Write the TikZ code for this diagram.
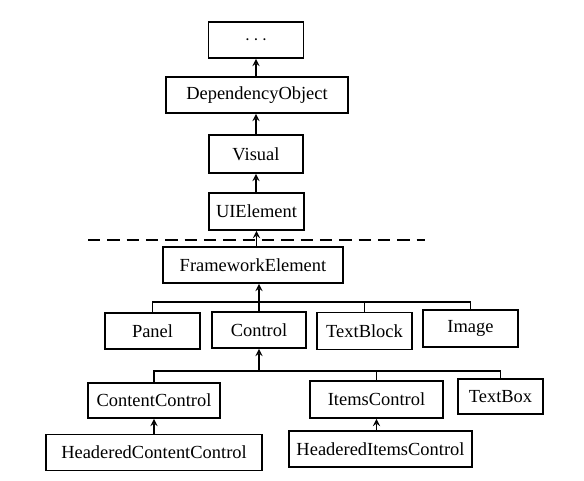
\documentclass[tikz,border=0pt]{standalone}
\usepackage{fontspec}
\setmainfont{Liberation Serif}
\usetikzlibrary{arrows}

\tikzset{
  cls/.style={draw, line width=1.1pt, minimum height=0.72cm, inner sep=2pt, font=\fontsize{10.5}{12}\selectfont},
  conn/.style={line width=0.8pt},
  sep/.style={line width=1.3pt, dash pattern=on 7pt off 4pt}
}

\begin{document}
\begin{tikzpicture}[>=stealth, x=0.02cm, y=-0.02cm]
  \useasboundingbox (0,0) rectangle (584,480);
  % upper chain
  \node[cls, minimum width=1.9cm] (dots) at (256,40) {$\cdots$};
  \node[cls, minimum width=3.64cm] (dep) at (257,95) {DependencyObject};
  \node[cls, minimum width=1.88cm, minimum height=0.76cm] (visual) at (256,154) {Visual};
  \node[cls, minimum width=1.9cm, minimum height=0.74cm] (uie) at (256.5,211.5) {UIElement};
  \node[cls, minimum width=3.6cm] (fwe) at (253,265) {FrameworkElement};
  % second row
  \node[cls, minimum width=1.9cm] (panel) at (152.5,331) {Panel};
  \node[cls, minimum width=1.88cm] (control) at (259,330) {Control};
  \node[cls, minimum width=1.9cm, minimum height=0.74cm] (tblock) at (364.5,331) {TextBlock};
  \node[cls, minimum width=1.9cm, minimum height=0.74cm] (image) at (470.5,328.5) {Image};
  % third row
  \node[cls, minimum width=2.64cm, minimum height=0.7cm] (cc) at (154,400.5) {ContentControl};
  \node[cls, minimum width=2.66cm, minimum height=0.74cm] (ic) at (376.5,399.5) {ItemsControl};
  \node[cls, minimum width=1.7cm, minimum height=0.7cm] (tbox) at (500.5,396.5) {TextBox};
  \node[cls, minimum width=4.32cm] (hcc) at (154,452.5) {HeaderedContentControl};
  \node[cls, minimum width=3.66cm] (hic) at (380.5,449) {HeaderedItemsControl};

  \coordinate (dl) at (88,240);
  \coordinate (dr) at (425,240);
  \draw[sep] (dl) -- (dr);

  \draw[conn, ->] (dep.north -| dots.south) -- (dots.south);
  \draw[conn, ->] (visual.north) -- (visual.north |- dep.south);
  \draw[conn, ->] (uie.north -| visual.south) -- (visual.south);
  \draw[conn, ->] (uie.south |- fwe.north) -- (uie.south);

  \coordinate (bus1) at (256,302);
  \draw[conn] (panel.north) |- (bus1) -| (image.north);
  \draw[conn] (bus1 -| tblock.north) -- (tblock.north);
  \draw[conn, ->] (control.north) -- (control.north |- fwe.south);

  \coordinate (bus2) at (258,371);
  \draw[conn] (cc.north) |- (bus2) -| (tbox.north);
  \draw[conn] (bus2 -| ic.north) -- (ic.north);
  \draw[conn, ->] (control.south |- bus2) -- (control.south);

  \draw[conn, ->] (hcc) -- (cc);
  \draw[conn, ->] (ic.south |- hic.north) -- (ic.south);
\end{tikzpicture}
\end{document}
